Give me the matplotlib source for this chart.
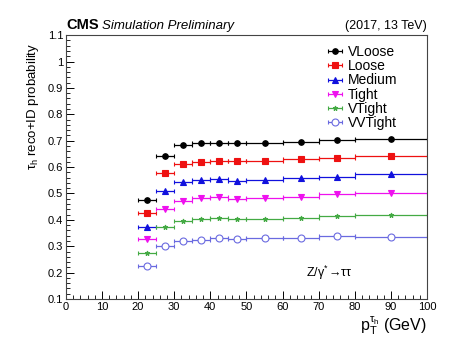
import matplotlib
matplotlib.use("Agg")
import matplotlib.pyplot as plt
from matplotlib.ticker import MultipleLocator
import numpy as np

plt.rcParams['font.family'] = ['Liberation Sans', 'DejaVu Sans']
plt.rcParams['mathtext.fontset'] = 'custom'
plt.rcParams['mathtext.rm'] = 'Liberation Sans'
plt.rcParams['mathtext.it'] = 'Liberation Sans'

# bin edges in pT (GeV)
edges = [20, 25, 30, 35, 40, 45, 50, 60, 70, 80, 100]

series_names = ["VLoose", "Loose", "Medium", "Tight", "VTight", "VVTight"]
vloose = [0.475, 0.643, 0.685, 0.690, 0.692, 0.692, 0.690, 0.695, 0.702, 0.706]
loose = [0.425, 0.576, 0.613, 0.621, 0.624, 0.624, 0.622, 0.629, 0.634, 0.642]
medium = [0.374, 0.508, 0.542, 0.550, 0.553, 0.549, 0.551, 0.557, 0.563, 0.572]
tight = [0.327, 0.442, 0.472, 0.481, 0.485, 0.478, 0.481, 0.488, 0.497, 0.500]
vtight = [0.276, 0.372, 0.394, 0.404, 0.406, 0.403, 0.404, 0.406, 0.416, 0.418]
vvtight = [0.225, 0.300, 0.320, 0.323, 0.330, 0.327, 0.330, 0.332, 0.337, 0.336]

x_ticks = [0, 10, 20, 30, 40, 50, 60, 70, 80, 90, 100]
y_ticks = [0.1, 0.2, 0.3, 0.4, 0.5, 0.6, 0.7, 0.8, 0.9, 1.0, 1.1]
y_tick_labels = ["0.1", "0.2", "0.3", "0.4", "0.5", "0.6", "0.7", "0.8", "0.9", "1", "1.1"]

styles = [
    dict(color="black", marker="o", ms=4, mfc="black"),
    dict(color="#ee1111", marker="s", ms=4, mfc="#ee1111"),
    dict(color="#1111dd", marker="^", ms=4, mfc="#1111dd"),
    dict(color="#ee11ee", marker="v", ms=4, mfc="#ee11ee"),
    dict(color="#44aa44", marker="*", ms=3.5, mfc="#44aa44"),
    dict(color="#6a6ae0", marker="o", ms=5, mfc="white"),
]

e = np.array(edges, dtype=float)
centers = 0.5 * (e[:-1] + e[1:])
halfw = 0.5 * (e[1:] - e[:-1])

fig = plt.figure(figsize=(4.74, 3.40), dpi=100)
ax = fig.add_axes([0.139, 0.1206, 0.762, 0.776])

for name, vals, st in zip(series_names, [vloose, loose, medium, tight, vtight, vvtight], styles):
    ax.errorbar(centers, vals, xerr=halfw, fmt=st["marker"], color=st["color"],
                ms=st["ms"], mfc=st["mfc"], mec=st["color"], mew=0.8,
                elinewidth=0.9, capsize=1.5, capthick=0.7, label=name)

ax.set_xlim(0, 100)
ax.set_ylim(0.1, 1.1)
ax.set_xticks(x_ticks)
ax.set_yticks(y_ticks)
ax.set_yticklabels(y_tick_labels)
ax.xaxis.set_minor_locator(MultipleLocator(2))
ax.yaxis.set_minor_locator(MultipleLocator(0.02))
ax.tick_params(which="both", direction="in", top=False, right=False, labelsize=8, pad=2)
ax.tick_params(which="major", length=6, width=0.7)
ax.tick_params(which="minor", length=3, width=0.6)
for s in ax.spines.values():
    s.set_linewidth(0.8)
    s.set_color("#444444")

ax.set_ylabel(r"$\tau_{\mathrm{h}}$ reco+ID probability", fontsize=9.5, loc="top")
ax.yaxis.set_label_coords(-0.068, 0.97)
ax.set_xlabel(r"$\mathrm{p}_{\mathrm{T}}^{\tau_{\mathrm{h}}}$ (GeV)", fontsize=11.5, loc="right", labelpad=2)

fig.text(0.139, 0.905, "CMS", fontsize=10.5, fontweight="bold", ha="left", va="bottom")
fig.text(0.215, 0.905, "Simulation Preliminary", fontsize=9.5, fontstyle="italic", ha="left", va="bottom")
fig.text(0.901, 0.905, "(2017, 13 TeV)", fontsize=9, ha="right", va="bottom")

ax.text(73, 0.198, r"Z/$\gamma^{*}\!\rightarrow\!\tau\tau$", fontsize=9, ha="center", va="center",
        transform=ax.transData)

leg = ax.legend(loc="upper right", frameon=False, fontsize=10, handlelength=1.3,
                handletextpad=0.3, labelspacing=0.02, borderaxespad=0.3,
                bbox_to_anchor=(0.945, 1.0))

fig.savefig("out.png", dpi=100)
